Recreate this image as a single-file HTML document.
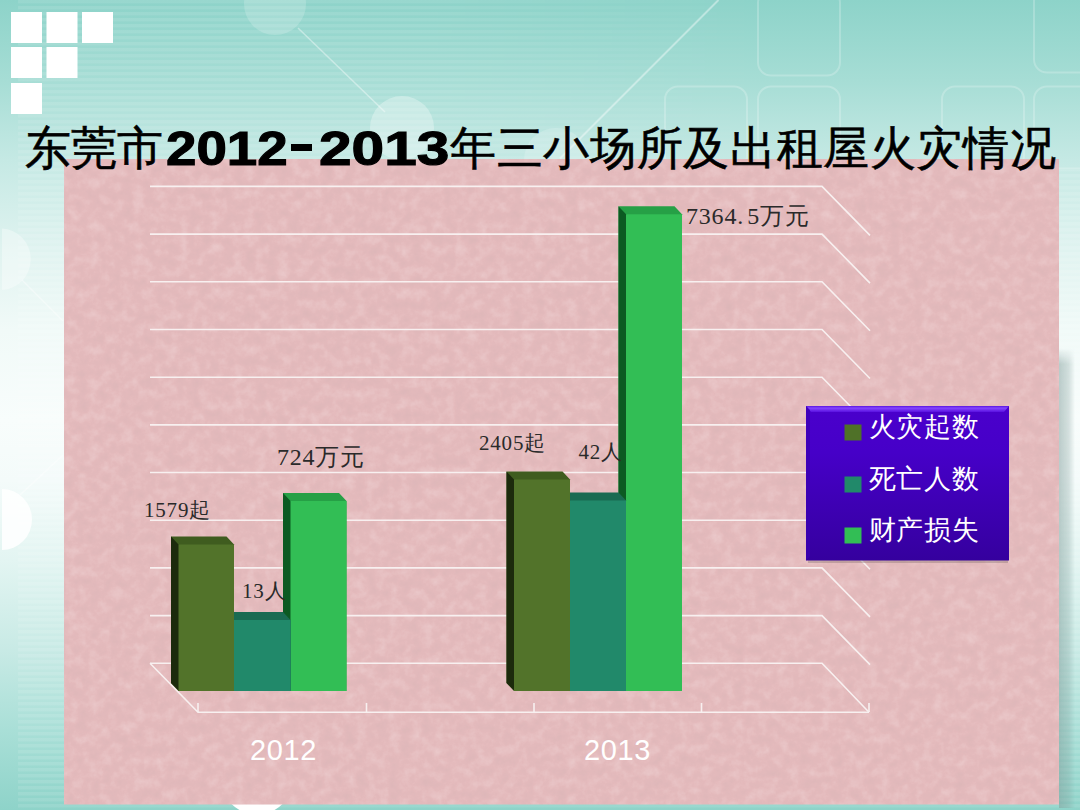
<!DOCTYPE html>
<html><head><meta charset="utf-8">
<style>
html,body{margin:0;padding:0;}
body{width:1080px;height:810px;overflow:hidden;position:relative;font-family:"Liberation Sans",sans-serif;}
#bg{position:absolute;left:0;top:0;width:1080px;height:810px;
 background:linear-gradient(180deg,#8dd3c9 0px,#a6ddd5 80px,#c5e9e4 160px,#e0f3f0 250px,#f1faf8 330px,#f8fdfc 420px,#f4fbfa 480px,#e3f5f2 560px,#c8eae5 650px,#a9dfd7 730px,#8ed3c9 810px);}
svg{position:absolute;left:0;top:0;}
.t{position:absolute;white-space:nowrap;line-height:1;}
.lb{font-family:"Liberation Serif",serif;color:#2a2a2a;letter-spacing:0.8px;}
</style></head>
<body>
<div id="bg"></div>
<svg width="1080" height="810" viewBox="0 0 1080 810">
 <defs>
  <filter id="tex" x="64" y="159" width="995" height="646" filterUnits="userSpaceOnUse">
   <feTurbulence type="fractalNoise" baseFrequency="0.09" numOctaves="4" seed="11" result="n"/>
   <feColorMatrix in="n" type="matrix" values="0 0 0 0 0.6  0 0 0 0 0.42  0 0 0 0 0.43  0.6 0 0 0 -0.29" result="dk"/>
   <feColorMatrix in="n" type="matrix" values="0 0 0 0 1  0 0 0 0 0.94  0 0 0 0 0.94  -0.5 0 0 0 0.26" result="lt"/>
   <feMerge result="m"><feMergeNode in="dk"/><feMergeNode in="lt"/></feMerge>
   <feComposite in="m" in2="SourceGraphic" operator="in"/>
  </filter>
  <pattern id="stripes" width="6" height="6" patternUnits="userSpaceOnUse">
   <rect x="0" y="0" width="6" height="3" fill="#ffffff" fill-opacity="0.1"/><rect x="0" y="3" width="6" height="0.8" fill="#ffffff" fill-opacity="0.05"/>
  </pattern>
  <linearGradient id="legG" x1="0" y1="0" x2="0" y2="1">
   <stop offset="0" stop-color="#4a00cc"/>
   <stop offset="0.3" stop-color="#4600c8"/>
   <stop offset="1" stop-color="#35009e"/>
  </linearGradient>
  <linearGradient id="legTop" x1="0" y1="0" x2="0" y2="1">
   <stop offset="0" stop-color="#5a14e0"/>
   <stop offset="0.35" stop-color="#8446ff"/>
   <stop offset="1" stop-color="#5a10e0"/>
  </linearGradient>
  <linearGradient id="shR" x1="0" y1="0" x2="1" y2="0">
   <stop offset="0" stop-color="#7f9c99" stop-opacity="0.5"/>
   <stop offset="0.6" stop-color="#7f9c99" stop-opacity="0.3"/>
   <stop offset="1" stop-color="#7f9c99" stop-opacity="0"/>
  </linearGradient>
  <linearGradient id="shV" x1="0" y1="0" x2="0" y2="1">
   <stop offset="0" stop-color="#fff" stop-opacity="0"/>
   <stop offset="0.035" stop-color="#fff" stop-opacity="1"/>
   <stop offset="1" stop-color="#fff" stop-opacity="1"/>
  </linearGradient>
  <linearGradient id="stH" x1="0" y1="0" x2="1" y2="0">
   <stop offset="0" stop-color="#fff" stop-opacity="1"/>
   <stop offset="0.4" stop-color="#fff" stop-opacity="1"/>
   <stop offset="0.72" stop-color="#fff" stop-opacity="0"/>
   <stop offset="1" stop-color="#fff" stop-opacity="0"/>
  </linearGradient>
  <mask id="stM"><rect x="0" y="0" width="1080" height="170" fill="url(#stH)"/></mask>
  <mask id="shM"><rect x="1050" y="348" width="30" height="462" fill="url(#shV)"/></mask>
 </defs>
 <!-- stripes band -->
 <rect x="18" y="0" width="1062" height="170" fill="url(#stripes)" mask="url(#stM)"/>
 <rect x="18" y="170" width="1062" height="640" fill="url(#stripes)"/>
 <!-- decorative circles/lines -->
 <g stroke="#ffffff" stroke-opacity="0.4" stroke-width="1.5" fill="none">
  <line x1="298" y1="28" x2="385" y2="112"/>
  <line x1="718.5" y1="0" x2="560" y2="158.5" stroke-width="2"/>
  <line x1="22" y1="280" x2="63" y2="321"/>
  <line x1="20" y1="495" x2="63" y2="455"/>
 </g>
 <g stroke="#ffffff" stroke-opacity="0.22" stroke-width="2" fill="none">
  <rect x="758" y="-10" width="82" height="85.5" rx="13"/>
  <rect x="1034" y="-12" width="82" height="84.5" rx="13"/>
  <rect x="665" y="86.5" width="82" height="82" rx="13"/>
  <rect x="758" y="86.5" width="82" height="82" rx="13"/>
  <rect x="942" y="86.5" width="82" height="82" rx="13"/>
  <rect x="1034" y="86.5" width="82" height="82" rx="13"/>
 </g>
 <circle cx="275" cy="4" r="31" fill="#ffffff" fill-opacity="0.18"/>
 <circle cx="402" cy="128" r="32" fill="#ffffff" fill-opacity="0.3"/>
 <circle cx="556" cy="160" r="32" fill="#ffffff" fill-opacity="0.18"/>
 <path d="M2 228.5 A30.5 30.8 0 0 1 2 290 Z" fill="#ffffff" fill-opacity="0.35"/>
 <path d="M2 489 A30 30.5 0 0 1 2 550 Z" fill="#ffffff" fill-opacity="0.85"/>
 <circle cx="257" cy="778" r="36.5" fill="#ffffff"/>
 <!-- white squares -->
 <g fill="#ffffff">
  <rect x="11" y="12" width="31" height="31"/>
  <rect x="46.5" y="12" width="31" height="31"/>
  <rect x="82" y="12" width="31" height="31"/>
  <rect x="11" y="47" width="31" height="31"/>
  <rect x="46.5" y="47" width="31" height="31"/>
  <rect x="11" y="83" width="31" height="31"/>
 </g>
 <!-- panel shadow -->
 <rect x="1059" y="345" width="16" height="463" fill="url(#shR)" mask="url(#shM)"/>
 <!-- pink panel -->
 <rect x="64" y="159" width="995" height="645.5" fill="#e4babc"/>
 <rect x="64" y="159" width="995" height="645.5" fill="#000" filter="url(#tex)" opacity="1"/>
 <!-- gridlines -->
 <g stroke="#f8f0f0" stroke-width="1.6" fill="none" id="grid">
<path d="M150 186.4 H822 L870 235.4"/>
<path d="M150 234.1 H822 L870 283.1"/>
<path d="M150 281.8 H822 L870 330.8"/>
<path d="M150 329.5 H822 L870 378.5"/>
<path d="M150 377.2 H822 L870 426.2"/>
<path d="M150 424.9 H822 L870 473.9"/>
<path d="M150 472.5 H822 L870 521.5"/>
<path d="M150 520.2 H822 L870 569.2"/>
<path d="M150 567.9 H822 L870 616.9"/>
<path d="M150 615.6 H822 L870 664.6"/>
<path d="M150 663.3 H822 L869 712.3"/>
<path d="M150 663.3 L198 712.3 H869"/>
<path d="M198 703 V712"/>
<path d="M366.5 703 V712"/>
<path d="M534 703 V712"/>
<path d="M701.5 703 V712"/>
<path d="M869 703 V712"/>
</g>
 <!-- bars -->
 <g id="bars">
<polygon points="283.0,493 339.0,493 346.5,501 346.5,691 290.5,691 283.0,683" fill="#26a046"/>
<polygon points="283.0,493 291.0,501.5 291.0,691 283.0,683" fill="#0c5a22"/>
<rect x="290.5" y="501" width="56.0" height="190" fill="#32be55"/>
<polygon points="226.5,612 283.0,612 290.5,620 290.5,691 234,691 226.5,683" fill="#1a6b52"/>
<polygon points="226.5,612 234.5,620.5 234.5,691 226.5,683" fill="#0e4a38"/>
<rect x="234" y="620" width="56.5" height="71" fill="#21896a"/>
<polygon points="171.0,536.5 226.5,536.5 234,544.5 234,691 178.5,691 171.0,683" fill="#3f5c1f"/>
<polygon points="171.0,536.5 179.0,545.0 179.0,691 171.0,683" fill="#1c2a0c"/>
<rect x="178.5" y="544.5" width="55.5" height="146.5" fill="#52732a"/>
<polygon points="618.5,206.3 674.5,206.3 682,214.3 682,691 626,691 618.5,683" fill="#26a046"/>
<polygon points="618.5,206.3 626.5,214.8 626.5,691 618.5,683" fill="#0c5a22"/>
<rect x="626" y="214.3" width="56" height="476.7" fill="#32be55"/>
<polygon points="562.5,492.5 618.5,492.5 626,500.5 626,691 570,691 562.5,683" fill="#1a6b52"/>
<polygon points="562.5,492.5 570.5,501.0 570.5,691 562.5,683" fill="#0e4a38"/>
<rect x="570" y="500.5" width="56" height="190.5" fill="#21896a"/>
<polygon points="506.5,471.5 562.5,471.5 570,479.5 570,691 514,691 506.5,683" fill="#3f5c1f"/>
<polygon points="506.5,471.5 514.5,480.0 514.5,691 506.5,683" fill="#1c2a0c"/>
<rect x="514" y="479.5" width="56" height="211.5" fill="#52732a"/>
</g>
 <!-- legend -->
 <rect x="808" y="560" width="200" height="3" fill="#7a6a6a" fill-opacity="0.35"/>
 <rect x="806" y="406" width="203" height="154.5" fill="url(#legG)"/>
 <polygon points="806,406 1009,406 1004,412 811,412" fill="url(#legTop)"/>
 <polygon points="806,406 810,410 810,556 806,560.5" fill="#3a00b4" fill-opacity="0.7"/>
 <rect x="844.5" y="424.5" width="17" height="16" fill="#4f7128"/>
 <rect x="844.5" y="476.5" width="17" height="16" fill="#21896a"/>
 <rect x="844.5" y="527.5" width="17" height="16" fill="#32be55"/>
</svg>
<div class="t" style="left:25px;top:125px;font-size:46px;color:#000;-webkit-text-stroke:0.6px #000;">东莞市</div>
<div class="t" style="left:166px;top:125px;font-size:48px;font-weight:bold;color:#000;transform-origin:0 0;transform:scaleX(1.14);-webkit-text-stroke:1.1px #000;">2012</div>
<div style="position:absolute;left:290.5px;top:143.5px;width:21px;height:7px;background:#000;"></div>
<div class="t" style="left:319px;top:125px;font-size:48px;font-weight:bold;color:#000;transform-origin:0 0;transform:scaleX(1.22);-webkit-text-stroke:1.1px #000;">2013</div>
<div class="t" style="left:450px;top:125px;font-size:46.2px;letter-spacing:0.65px;-webkit-text-stroke:0.6px #000;color:#000;">年三小场所及出租屋火灾情况</div>
<div class="t lb" style="left:144px;top:499.5px;font-size:21px;">1579起</div>
<div class="t lb" style="left:242px;top:581px;font-size:21px;">13人</div>
<div class="t lb" style="left:277px;top:445px;font-size:24px;">724万元</div>
<div class="t lb" style="left:479px;top:432.5px;font-size:21px;">2405起</div>
<div class="t lb" style="left:578.5px;top:442px;font-size:21px;">42人</div>
<div class="t lb" style="left:686px;top:204px;font-size:24px;">7364<span style="letter-spacing:4px">.</span>5万元</div>
<div class="t" style="left:250px;top:735.5px;font-size:29px;letter-spacing:0.6px;color:#fff;">2012</div>
<div class="t" style="left:584px;top:735.5px;font-size:29px;letter-spacing:0.6px;color:#fff;">2013</div>
<div class="t" style="left:868.5px;top:414px;font-size:26.5px;letter-spacing:0.8px;color:#fff;">火灾起数</div>
<div class="t" style="left:868.5px;top:466px;font-size:26.5px;letter-spacing:0.8px;color:#fff;">死亡人数</div>
<div class="t" style="left:868.5px;top:517px;font-size:26.5px;letter-spacing:0.8px;color:#fff;">财产损失</div>
</body></html>
